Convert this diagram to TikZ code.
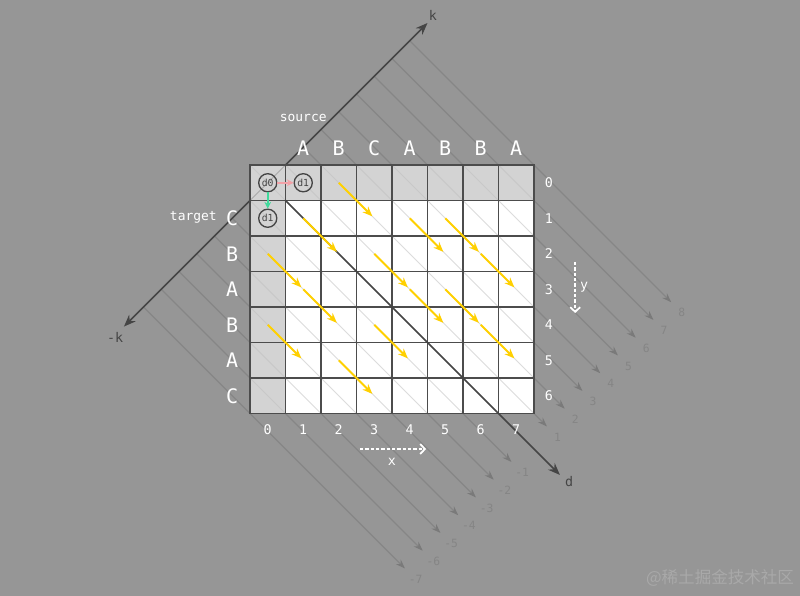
\documentclass[tikz,border=0pt]{standalone}
\usepackage{fontspec}
\setmainfont{DejaVu Sans Mono}
\newfontfamily\cjkf{Noto Sans CJK SC}
\usetikzlibrary{arrows.meta}
\definecolor{bg}{HTML}{969696}
\definecolor{gridc}{HTML}{4C4C4C}
\definecolor{cellg}{HTML}{D3D3D3}
\definecolor{diagw}{HTML}{DCDCDC}
\definecolor{diagg}{HTML}{C8C8C8}
\definecolor{fline}{HTML}{868686}
\definecolor{fhead}{HTML}{7A7A7A}
\definecolor{flabel}{HTML}{858585}
\definecolor{axisc}{HTML}{454545}
\definecolor{gold}{HTML}{FFD000}
\definecolor{pinkc}{HTML}{F2A0A6}
\definecolor{greenc}{HTML}{40DA9C}
\definecolor{wmc}{HTML}{A9A9A9}
\tikzset{
  kline/.style={draw=fline, line width=0.8pt, -{Stealth[length=7pt,width=5pt,color=fhead]}},
  klabel/.style={text=flabel, font=\fontsize{8.5}{9}\selectfont, inner sep=0pt},
  axisline/.style={draw=axisc, line width=1.1pt},
  axistip/.style={-{Stealth[length=9pt,width=7pt]}},
  axlabel/.style={text=axisc, font=\fontsize{10}{11}\selectfont, inner sep=0pt},
  gridline/.style={draw=gridc, line width=1.1pt, line cap=rect},
  match/.style={draw=gold, line width=1.5pt, shorten >=2pt, -{Stealth[length=7.5pt,width=6pt]}},
  dcirc/.style={circle, draw=axisc, line width=1pt, minimum size=13.6pt, inner sep=0pt, text=axisc, font=\fontsize{7.3}{8}\selectfont},
  pinkarrow/.style={draw=pinkc, line width=1.4pt, -{Stealth[length=5pt,width=5pt]}},
  greenarrow/.style={draw=greenc, line width=1.4pt, -{Stealth[length=5pt,width=5pt]}},
  letter/.style={text=white, font=\fontsize{15}{16}\selectfont, inner sep=0pt},
  word/.style={text=white, font=\fontsize{9.7}{11}\selectfont, inner sep=0pt},
  num/.style={text=white, font=\fontsize{10}{11}\selectfont, inner sep=0pt},
  dasharrow/.style={draw=white, line width=1.3pt, dash pattern=on 2.5pt off 1.5pt, -{Straight Barb[length=3.5pt,width=7.5pt]}},
  wmark/.style={text=wmc, font=\cjkf\fontsize{12.4}{13}\selectfont, inner sep=0pt}
}
\begin{document}
\begin{tikzpicture}[x=26.625pt,y=-26.625pt]
\useasboundingbox (-7.5423,-5.1479) rectangle (14.9930,11.6408);
\fill[bg] (-7.5423,-5.1479) rectangle (14.9930,11.6408);

% cell centres
\foreach \i in {0,...,7}{\foreach \j in {0,...,6}{\coordinate (c-\i-\j) at (\i,\j);}}

% faint k lines
\foreach \k in {-7,-6,-5,-4,-3,-2,-1,1,2,3,4,5,6,7,8}{
  \coordinate (ks\k) at ({\k/2},{-\k/2});
  \coordinate (ke\k) at ({(14.73+\k)/2},{(14.73-\k)/2});
  \draw[kline] (ks\k) -- (ke\k);
  \node[klabel] (kl\k) at ({(15.33+\k)/2},{(15.33-\k)/2}) {\k};
}

% k axis
\coordinate (kpos) at (4.5,-4.5);
\coordinate (kneg) at (-4.05,4.05);
\draw[axisline, {Stealth[length=9pt,width=7pt]}-{Stealth[length=9pt,width=7pt]}] (kneg) -- (kpos);
\node[axlabel] (klab) at (4.65,-4.70) {k};
\node[axlabel] (nklab) at (-4.30,4.37) {-k};

% grid cells
\fill[white] (-0.5,-0.5) rectangle (7.5,6.5);
\fill[cellg] (-0.5,-0.5) rectangle (7.5,0.5);
\fill[cellg] (-0.5,-0.5) rectangle (0.5,6.5);
\foreach \i in {0,...,7}{\foreach \j in {0,...,6}{
  \ifnum\i=0 \def\dc{diagg}\else\ifnum\j=0 \def\dc{diagg}\else\def\dc{diagw}\fi\fi
  \draw[\dc, line width=0.6pt] (\i-0.5,\j-0.5) -- (\i+0.5,\j+0.5);
}}
\draw[color=diagg!85!black, line width=0.6pt] (-0.5,0.5) -- (0.5,-0.5);
\foreach \i in {0,...,8} \draw[gridline] (\i-0.5,-0.5) -- (\i-0.5,6.5);
\foreach \j in {0,...,7} \draw[gridline] (-0.5,\j-0.5) -- (7.5,\j-0.5);

% d axis
\coordinate (dstart) at (0.5,0.5);
\coordinate (dend) at (8.23,8.23);
\draw[axisline, axistip] (dstart) -- (dend);
\node[axlabel] (dlab) at (8.49,8.43) {d};

% matches
\foreach \a/\b/\c/\d in {2/0/3/1, 1/1/2/2, 4/1/5/2, 5/1/6/2, 0/2/1/3, 3/2/4/3, 6/2/7/3, 1/3/2/4, 4/3/5/4, 5/3/6/4, 0/4/1/5, 3/4/4/5, 6/4/7/5, 2/5/3/6}
  \draw[match] (c-\a-\b) -- (c-\c-\d);

% circles
\node[dcirc] (d0) at (c-0-0) {d0};
\node[dcirc] (d1r) at (c-1-0) {d1};
\node[dcirc] (d1d) at (c-0-1) {d1};
\draw[pinkarrow] (d0) -- (d1r);
\draw[greenarrow] (d0) -- (d1d);

% source / target letters
\foreach \i/\l in {1/A,2/B,3/C,4/A,5/B,6/B,7/A}
  \node[letter] (s\i) at (\i,-0.98) {\l};
\foreach \j/\l in {1/C,2/B,3/A,4/B,5/A,6/C}
  \node[letter] (t\j) at (-1.0,\j) {\l};
\node[word] (srcw) at (1.0,-1.82) {source};
\node[word, anchor=east] (tgtw) at (-1.43,0.97) {target};

% index numbers
\foreach \i in {0,...,7} \node[num] (xn\i) at (\i,6.96) {\i};
\foreach \j in {0,...,6} \node[num] (yn\j) at (7.92,\j) {\j};

% x and y direction arrows
\coordinate (xa) at (2.6,7.5);
\coordinate (xb) at (4.46,7.5);
\draw[dasharrow] (xa) -- (xb);
\node[num] (xl) at (3.5,7.87) {x};
\coordinate (ya) at (8.66,2.23);
\coordinate (yb) at (8.66,3.67);
\draw[dasharrow] (ya) -- (yb);
\node[num] (yl) at (8.91,2.94) {y};

% watermark
\node[wmark] (wm) at (12.74,11.13) {@稀土掘金技术社区};
\end{tikzpicture}
\end{document}
